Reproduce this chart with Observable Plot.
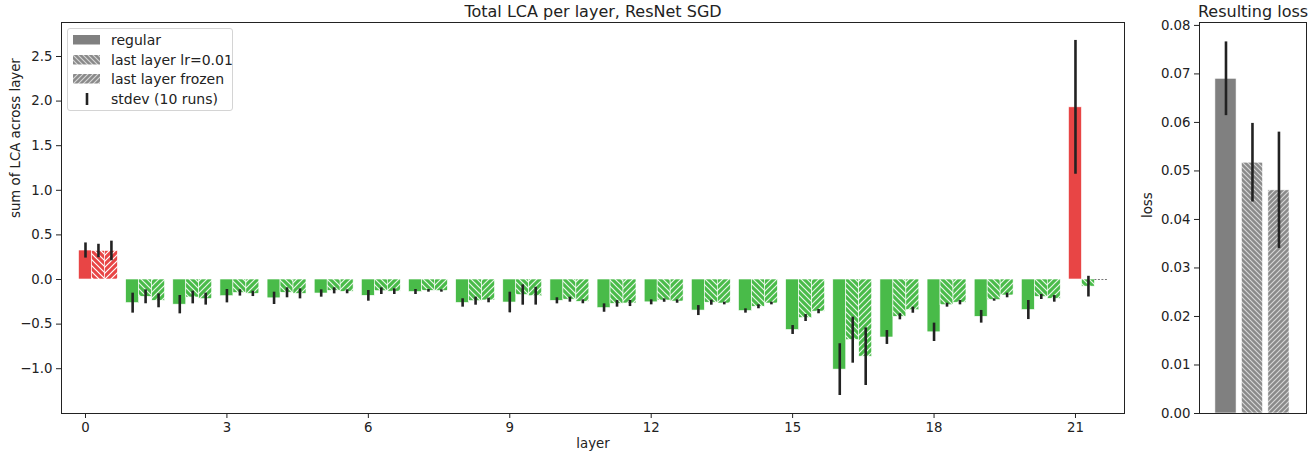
<!DOCTYPE html>
<html><head><meta charset="utf-8">
<script src="https://cdn.jsdelivr.net/npm/d3@7"></script>
<script src="https://cdn.jsdelivr.net/npm/@observablehq/plot@0.6"></script>
<style>
body{margin:0;background:#fff;font-family:"DejaVu Sans",sans-serif;}
#wrap{position:relative;width:1309px;height:455px;overflow:hidden;background:#fff;}
#main{position:absolute;left:0;top:0;}
#side{position:absolute;left:1130px;top:0;}
#legend{position:absolute;left:67px;top:28px;width:164px;height:81px;border:1px solid #d4d4d4;border-radius:3px;background:rgba(255,255,255,0.85);font-size:14px;color:#222;}
.row{position:absolute;left:0;height:18px;width:160px;}
.row svg{position:absolute;left:5px;top:4px;}
.row span{position:absolute;left:43px;top:0;line-height:18px;white-space:nowrap;}
</style></head>
<body>
<svg width="0" height="0" style="position:absolute">
<defs>
<pattern id="redBack" patternUnits="userSpaceOnUse" width="6" height="6"><rect width="6" height="6" fill="#e84545"/><path d="M0,0L6,6M-1,5L1,7M5,-1L7,1" stroke="#fff" stroke-width="1.2"/></pattern>
<pattern id="redFwd" patternUnits="userSpaceOnUse" width="6" height="6"><rect width="6" height="6" fill="#e84545"/><path d="M0,6L6,0M-1,1L1,-1M5,7L7,5" stroke="#fff" stroke-width="1.2"/></pattern>
<pattern id="greenBack" patternUnits="userSpaceOnUse" width="6" height="6"><rect width="6" height="6" fill="#49bb49"/><path d="M0,0L6,6M-1,5L1,7M5,-1L7,1" stroke="#e8f6e8" stroke-width="1.2"/></pattern>
<pattern id="greenFwd" patternUnits="userSpaceOnUse" width="6" height="6"><rect width="6" height="6" fill="#49bb49"/><path d="M0,6L6,0M-1,1L1,-1M5,7L7,5" stroke="#e8f6e8" stroke-width="1.2"/></pattern>
<pattern id="grayBack" patternUnits="userSpaceOnUse" width="5" height="5"><rect width="5" height="5" fill="#8a8a8a"/><path d="M0,0L5,5M-1,4L1,6M4,-1L6,1" stroke="#d8d8d8" stroke-width="1.1"/></pattern>
<pattern id="grayFwd" patternUnits="userSpaceOnUse" width="5" height="5"><rect width="5" height="5" fill="#8a8a8a"/><path d="M0,5L5,0M-1,1L1,-1M4,6L6,4" stroke="#d8d8d8" stroke-width="1.1"/></pattern>
</defs>
</svg>
<div id="wrap">
<div id="main"></div>
<div id="side"></div>
<div id="legend"></div>
</div>
<script>
// ---- data ----
const layers = [0,1,2,3,4,5,6,7,8,9,10,11,12,13,14,15,16,17,18,19,20,21];
const regular    = [0.325,-0.265,-0.282,-0.187,-0.211,-0.157,-0.183,-0.140,-0.263,-0.258,-0.239,-0.320,-0.256,-0.348,-0.353,-0.566,-1.010,-0.650,-0.592,-0.418,-0.342,1.930];
const regularStd = [0.085,0.112,0.103,0.075,0.069,0.041,0.060,0.028,0.047,0.116,0.034,0.047,0.028,0.056,0.024,0.050,0.290,0.078,0.103,0.071,0.107,0.750];
const lrLow      = [0.320,-0.194,-0.202,-0.151,-0.149,-0.127,-0.131,-0.127,-0.243,-0.174,-0.226,-0.273,-0.236,-0.260,-0.306,-0.432,-0.680,-0.418,-0.288,-0.230,-0.196,-0.080];
const lrLowStd   = [0.075,0.078,0.071,0.035,0.056,0.034,0.037,0.015,0.045,0.114,0.028,0.037,0.019,0.028,0.022,0.039,0.258,0.034,0.022,0.013,0.028,0.116];
const frozen     = [0.320,-0.239,-0.220,-0.161,-0.161,-0.138,-0.136,-0.129,-0.235,-0.187,-0.250,-0.269,-0.247,-0.269,-0.269,-0.360,-0.865,-0.344,-0.260,-0.179,-0.217,0.000];
const frozenStd  = [0.110,0.078,0.067,0.030,0.056,0.022,0.032,0.013,0.026,0.100,0.022,0.034,0.019,0.015,0.015,0.024,0.323,0.034,0.024,0.026,0.037,0.000];
const xTicks = [0,3,6,9,12,15,18,21];
const yTicks = [-1.0,-0.5,0.0,0.5,1.0,1.5,2.0,2.5];

const lossSeries = ["regular","last layer lr=0.01","last layer frozen"];
const lossValues = [0.0690,0.0517,0.0460];
const lossStd    = [0.0076,0.0081,0.0120];
const lossTicks  = [0,0.01,0.02,0.03,0.04,0.05,0.06,0.07,0.08];

// ---- build table ----
const W = 0.275;
const series = [regular, lrLow, frozen];
const stds = [regularStd, lrLowStd, frozenStd];
const rows = [];
layers.forEach((l, i) => series.forEach((s, k) => rows.push({layer: l, k, v: s[i], s: stds[k][i]})));
const cx = d => d.layer + d.k * W;
const fills = [
  {pos: "#e84545", neg: "#49bb49"},
  {pos: "url(#redBack)", neg: "url(#greenBack)"},
  {pos: "url(#redFwd)", neg: "url(#greenFwd)"}
];
const barMarks = [];
for (let k = 0; k < 3; k++) {
  for (const sign of ["pos", "neg"]) {
    barMarks.push(Plot.rect(rows.filter(d => d.k === k && (sign === "pos" ? d.v > 0 : d.v < 0)), {
      x1: d => cx(d) - W / 2, x2: d => cx(d) + W / 2, y1: d => 0, y2: d => d.v,
      fill: fills[k][sign], stroke: "white", strokeWidth: 0.6
    }));
  }
}

const font = {fontFamily: "DejaVu Sans", fontSize: "13.3px", color: "#222", background: "white", overflow: "visible"};

const main = Plot.plot({
  width: 1130, height: 455,
  marginLeft: 61, marginRight: 6, marginTop: 22, marginBottom: 42,
  style: font,
  x: {type: "linear", domain: [-0.509, 22.04]},
  y: {domain: [-1.502, 2.881]},
  marks: [
    ...barMarks,
    Plot.ruleY(rows.filter(d => d.v === 0), {x1: d => cx(d) - W / 2, x2: d => cx(d) + W / 2, y: d => d.v, stroke: "#777", strokeDasharray: "2,1.5", strokeWidth: 1}),
    Plot.ruleX(rows.filter(d => d.s > 0), {x: cx, y1: d => d.v - d.s, y2: d => d.v + d.s, stroke: "#222", strokeWidth: 2.6}),
    Plot.frame({stroke: "#222", strokeWidth: 1}),
    Plot.axisX({ticks: xTicks, tickFormat: d => String(d), tickSize: 5, tickPadding: 4, label: null, stroke: "#222"}),
    Plot.axisY({ticks: yTicks, tickFormat: d3.format(".1f"), tickSize: 5, tickPadding: 4, label: null, stroke: "#222"}),
    Plot.text(["Total LCA per layer, ResNet SGD"], {text: d => d, frameAnchor: "top", dy: -11, fontSize: 16, lineAnchor: "middle", fill: "#222"}),
    Plot.text(["layer"], {text: d => d, frameAnchor: "bottom", dy: 30, lineAnchor: "middle", fill: "#222"}),
    Plot.text(["sum of LCA across layer"], {text: d => d, frameAnchor: "left", dx: -46, rotate: -90, lineAnchor: "middle", fill: "#222"})
  ]
});
document.getElementById("main").append(main);

const sideRows = lossSeries.map((name, k) => ({k, name, v: lossValues[k], s: lossStd[k]}));
const sideFills = ["#808080", "url(#grayBack)", "url(#grayFwd)"];
const side = Plot.plot({
  width: 179, height: 455,
  marginLeft: 69, marginRight: 3, marginTop: 22, marginBottom: 42,
  style: font,
  x: {type: "linear", domain: [-1, 3.04], axis: null},
  y: {domain: [0, 0.0806]},
  marks: [
    ...sideRows.map((r, k) => Plot.rect([r], {x1: d => d.k - 0.4, x2: d => d.k + 0.4, y1: d => 0, y2: d => d.v, fill: sideFills[k], stroke: "white", strokeWidth: 0.6})),
    Plot.ruleX(sideRows, {x: d => d.k, y1: d => d.v - d.s, y2: d => d.v + d.s, stroke: "#222", strokeWidth: 2.6}),
    Plot.frame({stroke: "#222", strokeWidth: 1}),
    Plot.axisY({ticks: lossTicks, tickFormat: d3.format(".2f"), tickSize: 5, tickPadding: 4, label: null, stroke: "#222"}),
    Plot.text(["Resulting loss"], {text: d => d, frameAnchor: "top", dy: -11, fontSize: 16, lineAnchor: "middle", fill: "#222"}),
    Plot.text(["loss"], {text: d => d, frameAnchor: "left", dx: -52, rotate: -90, lineAnchor: "middle", fill: "#222"})
  ]
});
document.getElementById("side").append(side);

// ---- legend ----
const legendItems = [
  {label: lossSeries[0], fill: "#808080"},
  {label: lossSeries[1], fill: "url(#grayBack)"},
  {label: lossSeries[2], fill: "url(#grayFwd)"},
  {label: "stdev (10 runs)", err: true}
];
const leg = document.getElementById("legend");
const rowTops = [2, 22, 41, 61];
legendItems.forEach((it, i) => {
  const row = document.createElement("div");
  row.className = "row";
  row.style.top = rowTops[i] + "px";
  const sw = it.err
    ? `<svg width="28" height="14" style="top:2px"><line x1="14" x2="14" y1="1" y2="13" stroke="#222" stroke-width="2.6"/></svg>`
    : `<svg width="28" height="10"><rect x="0" y="0" width="27" height="9.5" fill="${it.fill}"/></svg>`;
  row.innerHTML = sw + `<span>${it.label}</span>`;
  leg.append(row);
});
</script>
</body></html>
